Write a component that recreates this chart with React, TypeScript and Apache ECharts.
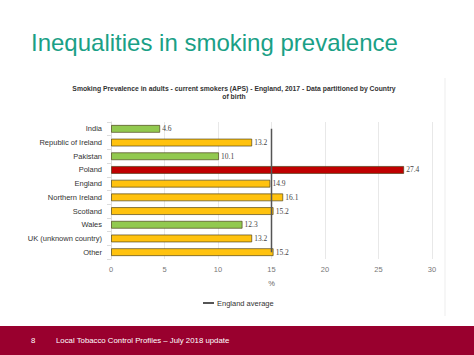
import React, { useEffect, useRef } from "react";
import * as echarts from "echarts";

const categories = [
  "India",
  "Republic of Ireland",
  "Pakistan",
  "Poland",
  "England",
  "Northern Ireland",
  "Scotland",
  "Wales",
  "UK (unknown country)",
  "Other",
];
const values = [4.6, 13.2, 10.1, 27.4, 14.9, 16.1, 15.2, 12.3, 13.2, 15.2];
// comparison with England average: "better" | "similar" | "worse"
const significance = ["better", "similar", "better", "worse", "similar", "similar", "similar", "better", "similar", "similar"];
const englandAverage = 15;
const xTicks = [0, 5, 10, 15, 20, 25, 30];

const sigColors: Record<string, string> = {
  better: "#92c94f",
  similar: "#ffc20e",
  worse: "#c00000",
};

export default function App() {
  const ref = useRef<HTMLDivElement>(null);
  useEffect(() => {
    if (!ref.current) return;
    const chart = echarts.init(ref.current, undefined, { renderer: "svg" });
    chart.setOption({
      animation: false,
      backgroundColor: "#ffffff",
      title: {
        text: "Smoking Prevalence in adults - current smokers (APS) - England, 2017 - Data partitioned by Country\nof birth",
        left: 229,
        textAlign: "center",
        top: 79,
        textStyle: {
          fontFamily: "Liberation Sans",
          fontSize: 6.8,
          fontWeight: "bold",
          color: "#333",
          lineHeight: 8.5,
        },
      },
      legend: {
        left: 198,
        top: 294,
        icon: "rect",
        itemWidth: 11,
        itemHeight: 2,
        itemGap: 5,
        data: ["England average"],
        textStyle: { fontFamily: "Liberation Sans", fontSize: 7.5, color: "#333", padding: [0, 0, 0, -2] },
      },
      grid: { left: 111, right: 42, top: 122, bottom: 96, containLabel: false },
      xAxis: {
        type: "value",
        min: xTicks[0],
        max: xTicks[xTicks.length - 1],
        interval: 5,
        name: "%",
        nameLocation: "middle",
        nameGap: 20,
        nameTextStyle: { fontFamily: "Liberation Sans", fontSize: 7.5, color: "#666" },
        axisLine: { show: false },
        axisTick: { show: false },
        axisLabel: { fontFamily: "Liberation Sans", fontSize: 7.5, color: "#777", margin: 6 },
        splitLine: { lineStyle: { color: "#e8e8e8", width: 1 } },
      },
      yAxis: {
        type: "category",
        data: categories,
        inverse: true,
        axisLine: { show: true, lineStyle: { color: "#dcdcdc" } },
        axisTick: { show: true, length: 4, lineStyle: { color: "#dcdcdc" } },
        axisLabel: { fontFamily: "Liberation Sans", fontSize: 7.5, color: "#333", margin: 9 },
      },
      series: [
        {
          type: "bar",
          name: "Prevalence",
          barWidth: 8,
          data: values.map((v, i) => ({
            value: v,
            itemStyle: {
              color: sigColors[significance[i]],
              borderColor: "rgba(70,60,20,0.65)",
              borderWidth: 1,
            },
          })),
          label: {
            show: true,
            position: "right",
            distance: 2,
            fontFamily: "Liberation Serif",
            fontSize: 7.5,
            color: "#444",
          },
        },
        {
          type: "line",
          name: "England average",
          data: [
            [englandAverage, categories[0]],
            [englandAverage, categories[categories.length - 1]],
          ],
          symbol: "none",
          lineStyle: { color: "#555", width: 1.5 },
          itemStyle: { color: "#555" },
          z: 5,
        },
      ],
      graphic: [
        {
          type: "text",
          left: 31,
          top: 30,
          style: {
            text: "Inequalities in smoking prevalence",
            fontFamily: "Liberation Sans",
            fontSize: 24,
            fill: "#1aa086",
          },
        },
        {
          type: "line",
          shape: { x1: 445, y1: 78, x2: 445, y2: 316 },
          style: { stroke: "#ededed", lineWidth: 1 },
        },
        {
          type: "rect",
          shape: { x: 0, y: 326, width: 474, height: 29 },
          style: { fill: "#99002e" },
        },
        {
          type: "text",
          x: 31,
          y: 340,
          style: {
            text: "8",
            fontFamily: "Liberation Sans",
            fontSize: 7.8,
            fill: "#ffffff",
            verticalAlign: "middle",
          },
        },
        {
          type: "text",
          x: 56,
          y: 340,
          style: {
            text: "Local Tobacco Control Profiles – July 2018 update",
            fontFamily: "Liberation Sans",
            fontSize: 7.8,
            fill: "#ffffff",
            verticalAlign: "middle",
          },
        },
      ],
    });
    return () => chart.dispose();
  }, []);
  return (
    <div
      ref={ref}
      style={{ position: "fixed", left: 0, top: 0, width: 474, height: 355 }}
    />
  );
}
